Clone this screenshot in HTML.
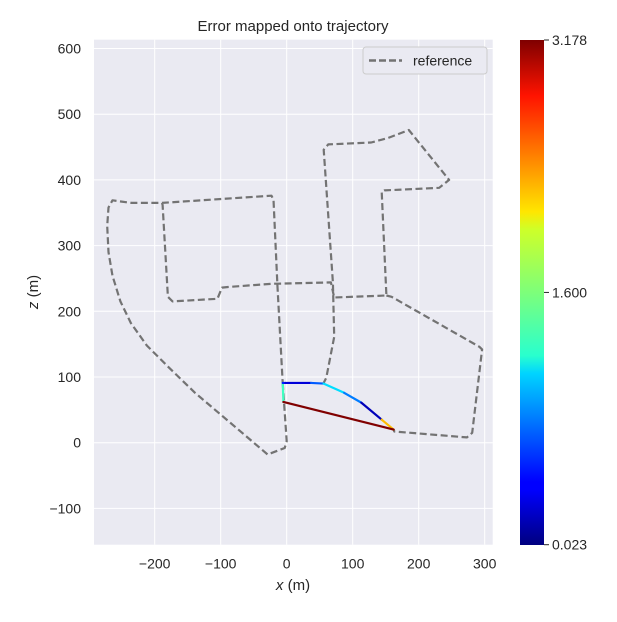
<!DOCTYPE html>
<html><head><meta charset="utf-8"><style>
body{margin:0;background:#fff;}
svg text{font-family:"Liberation Sans",Arial,sans-serif;fill:#262626;}
</style></head><body>
<svg id="chart" width="617" height="617" xmlns="http://www.w3.org/2000/svg">
<defs>
<linearGradient id="jet" x1="0" y1="1" x2="0" y2="0">
<stop offset="0" stop-color="#00007f"/><stop offset="0.11" stop-color="#0000ff"/>
<stop offset="0.125" stop-color="#0000ff"/><stop offset="0.34" stop-color="#00d4ff"/>
<stop offset="0.375" stop-color="#29ffce"/><stop offset="0.5" stop-color="#7dff7a"/>
<stop offset="0.625" stop-color="#ceff29"/><stop offset="0.66" stop-color="#ffe600"/>
<stop offset="0.89" stop-color="#ff1300"/><stop offset="1" stop-color="#7f0000"/>
</linearGradient>
</defs>
<text x="293" y="31" font-size="15" text-anchor="middle">Error mapped onto trajectory</text>
<rect x="94" y="39.7" width="398.7" height="505" fill="#eaeaf2"/>
<g id="grid"></g>
<g id="ticks"></g>
<g id="series"></g>
<text x="293" y="590" font-size="15" text-anchor="middle"><tspan font-style="italic">x</tspan> (m)</text>
<text transform="translate(38,292) rotate(-90)" font-size="15" text-anchor="middle"><tspan font-style="italic">z</tspan> (m)</text>
<g>
<rect x="363" y="47" width="124" height="27" rx="3" fill="#eaeaf2" stroke="#cccccc" stroke-width="1"/>
<line x1="369" y1="60.5" x2="402" y2="60.5" stroke="#737373" stroke-width="2.5" stroke-dasharray="7,3"/>
<text x="413" y="65.5" font-size="14">reference</text>
</g>
<rect x="520" y="40" width="24" height="505" fill="url(#jet)"/>
<g id="cbticks"></g>
</svg>
<script>
const xTicks=[-200,-100,0,100,200,300];
const zTicks=[-100,0,100,200,300,400,500,600];
// reference trajectory (null breaks segments)
const refX=[-6,0,-3,-29,-78,-139,-178,-212,-236,-252,-264,-270,-272,-270,-264,-250,-235,-189,-23,-20,-14,-6,null,
 -189,-188,-180,-173,-105,-98,-89,-21,-14,67,72,151,144,148,231,246,185,154,128,63,56,70,72,60,56,null,
 151,159,292,296,281,273,163,162];
const refZ=[91,2,-8,-18,24,76,114,148,182,215,254,290,330,358,369,367,365,365,376,370,237,91,null,
 365,362,222,215,219,236,237,242,242,244,221,224,382,384,388,400,476,464,457,454,446,244,161,99,91,null,
 224,222,146,142,15,8,17,20];
// estimated trajectory with per-point error
const estX=[-5,-6,-2,37,56,87,113,144,162,-5];
const estZ=[62,91,91,91,90,76,61,35,20,62];
const estErr=[1.5,1.4,0.5,0.3,0.7,1.1,0.8,0.2,2.2,3.178];
const cbTicks=[0.023,1.600,3.178];
const errMin=0.023, errMax=3.178;

const L=94,R=492.7,T=39.7,B=544.7;
const sx=v=>286.7+v*0.66;
const sz=v=>442.7-v*0.657;
const NS="http://www.w3.org/2000/svg";
function mk(tag,attrs,parent){const e=document.createElementNS(NS,tag);for(const k in attrs)e.setAttribute(k,attrs[k]);parent.appendChild(e);return e;}
const grid=document.getElementById('grid'),ticks=document.getElementById('ticks'),ser=document.getElementById('series'),cbt=document.getElementById('cbticks');
xTicks.forEach(t=>{
 const l=mk('line',{x1:sx(t),x2:sx(t),y1:T,y2:B,stroke:'#fff','stroke-width':1},grid);
 
 
 const tx=mk('text',{x:sx(t),y:B+24,'font-size':14,'text-anchor':'middle'},ticks);
 tx.textContent=String(t).replace('-','\u2212');
 
 
});
zTicks.forEach(t=>{
 const l=mk('line',{x1:L,x2:R,y1:sz(t),y2:sz(t),stroke:'#fff','stroke-width':1},grid);
 
 
 const tx=mk('text',{x:L-13,y:sz(t)+5,'font-size':14,'text-anchor':'end'},ticks);
 tx.textContent=String(t).replace('-','\u2212');
 
 
});
let d='',pen=false;
for(let i=0;i<refX.length;i++){
 if(refX[i]===null){pen=false;continue;}
 d+=(pen?'L':'M')+sx(refX[i]).toFixed(1)+','+sz(refZ[i]).toFixed(1);pen=true;
}
const rp=mk('path',{d:d,fill:'none',stroke:'#737373','stroke-width':2.2,'stroke-dasharray':'7,3.5','stroke-linejoin':'round'},ser);


function jet(v){
 const t=Math.max(0,Math.min(1,(v-errMin)/(errMax-errMin)));
 const c=x=>Math.round(255*Math.max(0,Math.min(1,1.5-Math.abs(4*t-x))));
 return `rgb(${c(3)},${c(2)},${c(1)})`;
}
for(let i=0;i<estX.length-1;i++){
 const s=mk('line',{x1:sx(estX[i]),y1:sz(estZ[i]),x2:sx(estX[i+1]),y2:sz(estZ[i+1]),stroke:jet(estErr[i+1]),'stroke-width':2.2,'stroke-linecap':'round'},ser);
 
 
}
cbTicks.forEach(t=>{
 const y=544.7-(t-errMin)/(errMax-errMin)*504.7;
 mk('line',{x1:544,x2:549,y1:y,y2:y,stroke:'#262626','stroke-width':1},cbt);
 const tx=mk('text',{x:552,y:y+5,'font-size':14},cbt);
 tx.textContent=t.toFixed(3);
 
 
});
</script>
</body></html>
